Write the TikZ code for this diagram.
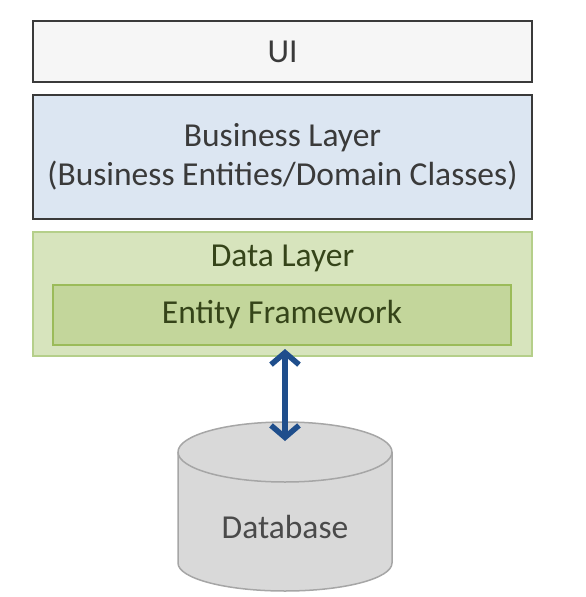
\documentclass[tikz,border=0pt]{standalone}
\usepackage{fontspec}
\setmainfont{Carlito}
\usetikzlibrary{arrows.meta,shapes.geometric}
\definecolor{txt}{HTML}{3A3A3A}
\definecolor{uifill}{HTML}{F6F6F6}
\definecolor{blfill}{HTML}{DCE6F2}
\definecolor{dlfill}{HTML}{D7E4BD}
\definecolor{dlborder}{HTML}{B5CF8A}
\definecolor{effill}{HTML}{C3D69B}
\definecolor{efborder}{HTML}{9BBB59}
\definecolor{gtxt}{HTML}{354419}
\definecolor{arrowc}{HTML}{1F4E8C}
\definecolor{dbfill}{HTML}{D9D9D9}
\definecolor{dbborder}{HTML}{A6A6A6}
\definecolor{dbtxt}{HTML}{4A4A4A}
\tikzset{
  bigfont/.style={font=\fontsize{33.5}{39}\selectfont},
  layer/.style={draw=txt, line width=1.5pt, minimum width=499pt, inner sep=0pt, text=txt, bigfont, align=center},
}
\begin{document}
\begin{tikzpicture}[x=1pt,y=-1pt]
\useasboundingbox (0,0) rectangle (586,597);
\node[layer, fill=uifill, minimum height=61pt] (ui) at (282.5,51.5) {UI};
\node[layer, fill=blfill, minimum height=124pt] (bl) at (282.5,157) {Business Layer\\(Business Entities/Domain Classes)};
\node[draw=dlborder, line width=1.5pt, fill=dlfill, minimum width=499pt, minimum height=124pt, inner sep=0pt] (dl) at (282.5,294) {};
\node[text=gtxt, bigfont] (dlt) at (282.5,258) {Data Layer};
\node[draw=efborder, line width=1.2pt, fill=effill, minimum width=458pt, minimum height=60pt, inner sep=0pt, text=gtxt, bigfont] (ef) at (282,315) {Entity Framework};
% database cylinder
\path[draw=dbborder, line width=1.5pt, fill=dbfill]
  (178,452) -- (178,563) arc[start angle=180, end angle=0, x radius=107, y radius=28] -- (392,452)
  arc[start angle=0, end angle=-180, x radius=107, y radius=30] -- cycle;
\draw[dbborder, line width=1.5pt] (178,452) arc[start angle=180, end angle=0, x radius=107, y radius=30];
\node[text=dbtxt, bigfont] (db) at (285,527) {Database};
\coordinate (dbtop) at (285,441);
\draw[arrowc, line width=5.5pt, {Straight Barb[length=12pt,width=28pt]}-{Straight Barb[length=12pt,width=28pt]}] (285,349) -- (dbtop);
\end{tikzpicture}
\end{document}
